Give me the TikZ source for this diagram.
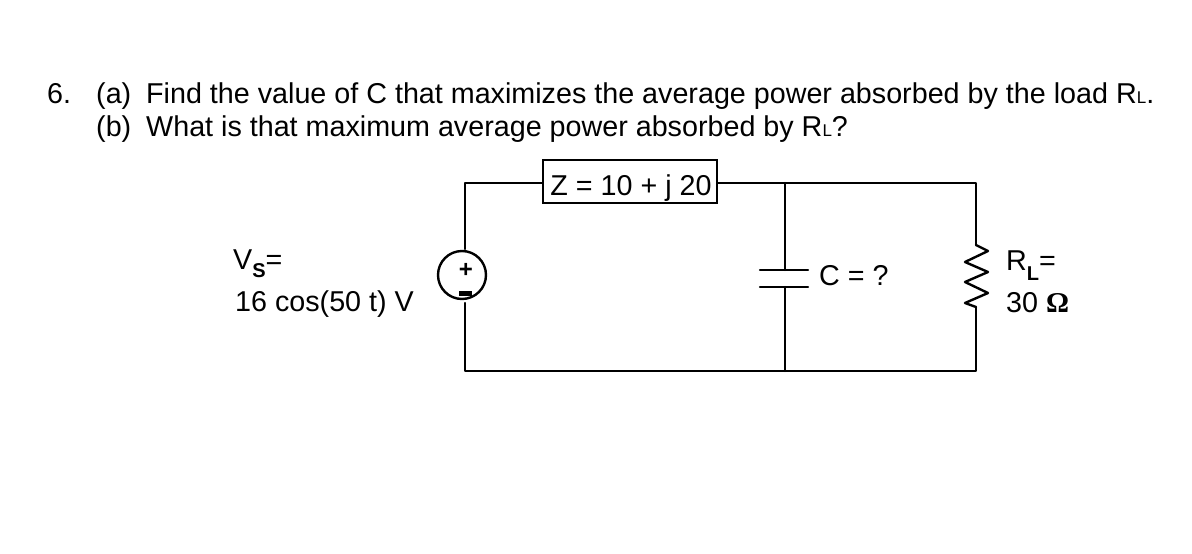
\documentclass[tikz,border=0pt]{standalone}
\usepackage{fontspec}
\setmainfont{Liberation Sans}
\newfontfamily\omegafont{Liberation Serif}
\newcommand{\subtxt}[1]{\raisebox{-0.02em}{\fontsize{17}{17}\selectfont #1}}
\newcommand{\subbold}[2]{\raisebox{-#1}{\fontsize{20}{20}\selectfont\bfseries #2}}
\tikzset{
  x=1pt,y=-1pt,
  wire/.style={draw=black,line width=2.4pt,line cap=round,line join=round},
  txt/.style={inner sep=0pt,anchor=base west,font=\fontsize{28.7}{28.7}\selectfont,text=black},
  lab/.style={inner sep=0pt,anchor=base west,font=\fontsize{28.7}{28.7}\selectfont,text=black},
  zbox/.style={draw=black,line width=2.4pt,minimum width=174pt,minimum height=43pt,inner sep=0pt,anchor=north west},
  src/.style={circle,draw=black,line width=2.4pt,minimum size=48pt,inner sep=0pt},
}
\begin{document}
\begin{tikzpicture}
\useasboundingbox (0,0) rectangle (1192,554);
\fill[white] (0,0) rectangle (1192,554);
\node[txt] (n6) at (47,103) {6.};
\node[txt] (pa) at (96,103) {(a)};
\node[txt] (la) at (146,103) {Find the value of C that maximizes the average power absorbed by the load R\subtxt{L}.};
\node[txt] (pb) at (96,136) {(b)};
\node[txt] (lb) at (146,136) {What is that maximum average power absorbed by R\subtxt{L}?};
\node[zbox] (z) at (542,159) {};
\node[lab,anchor=base] (ztxt) at (631,195) {Z = 10 + j 20};
\node[src] (vs) at (462,275) {};
\node[inner sep=0pt,font=\fontsize{24}{24}\selectfont\bfseries] (plus) at (466,270) {+};
\fill[black] (459,291) rectangle (472,295.5);
\node[lab] (v1) at (233,269) {V\subbold{8pt}{S}=};
\node[lab] (v2) at (235,311) {16 cos(50 t) V};
\coordinate (tl) at (465,183);
\coordinate (vt) at (465,249);
\coordinate (vb) at (465,303);
\coordinate (bl) at (465,371);
\coordinate (jt) at (785,183);
\coordinate (jb) at (785,371);
\coordinate (tr) at (976,183);
\coordinate (br) at (976,371);
\coordinate (c1) at (785,270);
\coordinate (c2) at (785,287);
\coordinate (rt) at (976,245);
\coordinate (rb) at (976,307);
\draw[wire] (vt) -- (tl) -- (z.west |- tl);
\draw[wire] (z.east |- tl) -- (tr) -- (rt);
\draw[wire] (vb) -- (bl) -- (br) -- (rb);
\draw[wire] (jt) -- (c1);
\draw[wire] (c2) -- (jb);
\draw[wire] (760,270) -- (808,270);
\draw[wire] (760,287) -- (808,287);
\draw[wire] (rt) -- (988,251) -- (965,262) -- (988,272) -- (965,282) -- (988,293) -- (965,303) -- (rb);
\node[lab] (clab) at (819,285) {C = ?};
\node[lab] (r1) at (1006,270) {R\subbold{10pt}{L}=};
\node[lab] (r2) at (1006,312) {30 {\omegafont\bfseries Ω}};
\end{tikzpicture}
\end{document}
